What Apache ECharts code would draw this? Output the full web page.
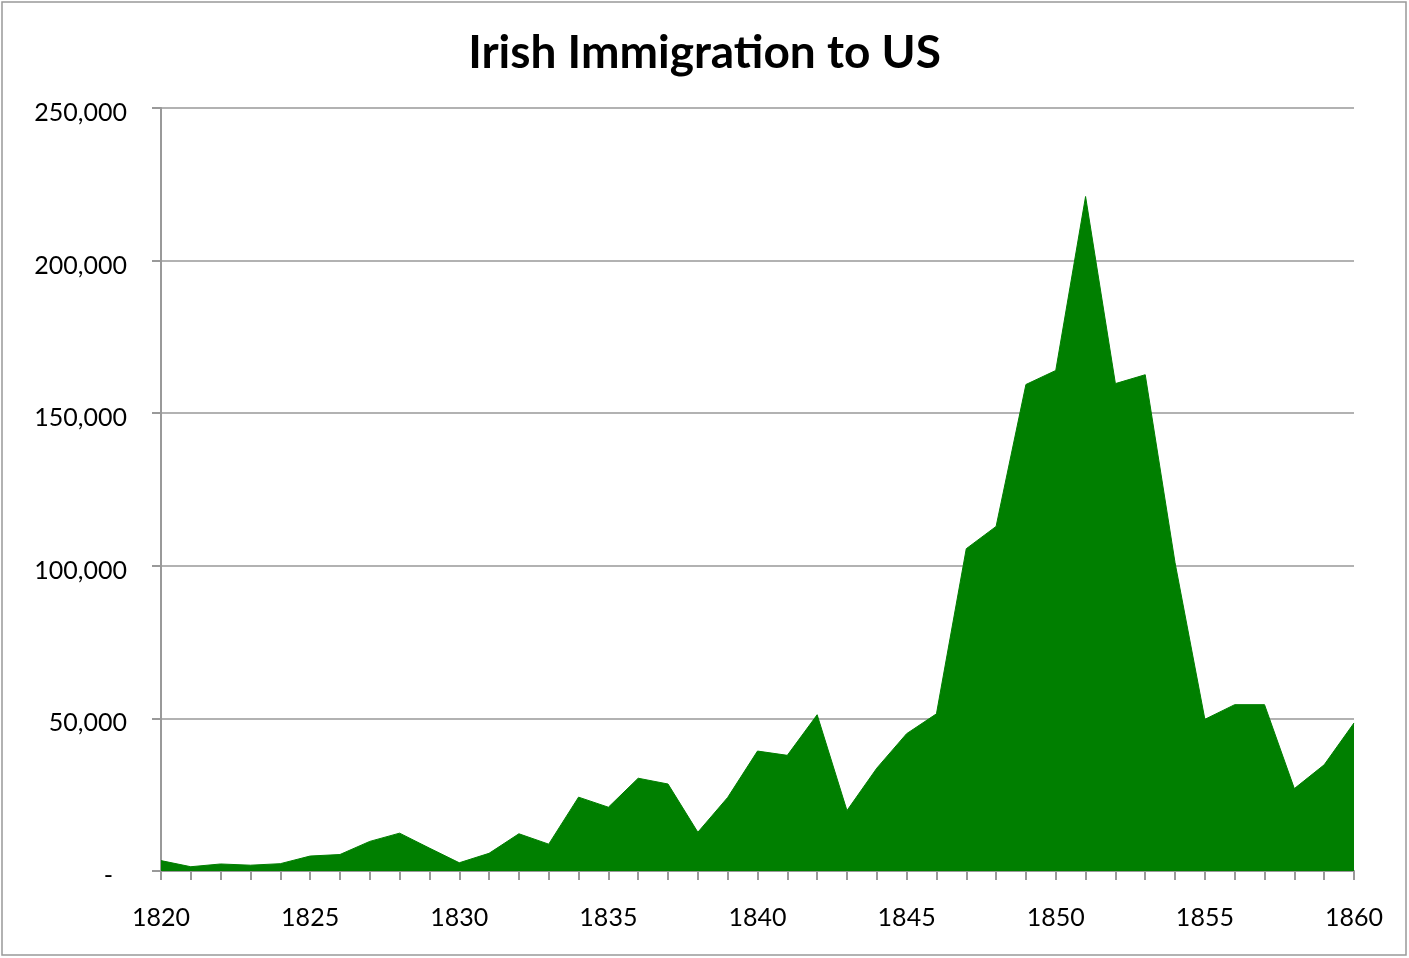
<!DOCTYPE html>
<html>
<head>
<meta charset="utf-8">
<script src="https://cdn.jsdelivr.net/npm/echarts@6/dist/echarts.min.js"></script>
<style>
html,body{margin:0;padding:0;background:#fff;}
#chart{width:1409px;height:958px;}
</style>
</head>
<body>
<div id="chart"></div>
<script>
const years = ['1820','1821','1822','1823','1824','1825','1826','1827','1828','1829',
  '1830','1831','1832','1833','1834','1835','1836','1837','1838','1839',
  '1840','1841','1842','1843','1844','1845','1846','1847','1848','1849',
  '1850','1851','1852','1853','1854','1855','1856','1857','1858','1859','1860'];
const immigrants = [3400,1400,2300,1900,2400,4900,5400,9700,12400,7500,
  2700,5800,12200,8800,24200,20900,30400,28500,12700,24100,
  39300,37900,51200,19800,33700,45000,51500,105600,112900,159400,
  164000,221000,159700,162600,101000,49700,54500,54500,27000,34800,48500];
const yTicks = [0,50000,100000,150000,200000,250000];
const titleText = 'Irish Immigration to US';

const chart = echarts.init(document.getElementById('chart'));
const FONT = 'Lato';
chart.setOption({
  animation:false,
  backgroundColor:'#fff',
  title:{text:titleText,left:'center',top:25,
    textStyle:{fontFamily:FONT,fontWeight:'bold',fontSize:46,color:'#000'}},
  graphic:[{type:'rect',shape:{x:2,y:2,width:1404,height:953},
    style:{fill:'none',stroke:'#999',lineWidth:1.5},silent:true}],
  grid:{left:161,right:55,top:108,bottom:87,containLabel:false},
  xAxis:{type:'category',data:years,boundaryGap:false,
    axisLine:{lineStyle:{color:'#999',width:2}},
    axisTick:{show:true,interval:0,length:9,lineStyle:{color:'#999',width:2}},
    axisLabel:{interval:4,margin:34,fontFamily:FONT,fontSize:25,color:'#000'},
    splitLine:{show:false}},
  yAxis:{type:'value',min:0,max:250000,interval:50000,
    axisLine:{show:true,lineStyle:{color:'#999',width:2}},
    axisTick:{show:true,length:9,lineStyle:{color:'#999',width:2}},
    axisLabel:{margin:34,color:'#000',
      formatter:function(v){return v===0?'{z|-}':'{n|'+v.toLocaleString('en-US')+'}';},
      rich:{
        n:{fontFamily:FONT,fontSize:25,color:'#000',padding:[10,0,0,0]},
        z:{fontFamily:FONT,fontSize:25,color:'#000',padding:[10,14,0,0]}
      }},
    splitLine:{lineStyle:{color:'#999',width:1.5}}},
  series:[{type:'line',data:immigrants,symbol:'none',
    lineStyle:{color:'#007f00',width:1},
    itemStyle:{color:'#007f00'},
    areaStyle:{color:'#007f00',opacity:1}}]
});
</script>
</body>
</html>
